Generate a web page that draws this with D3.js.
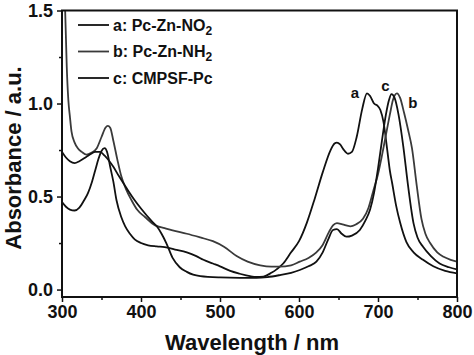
<!DOCTYPE html>
<html><head><meta charset="utf-8">
<script src="https://cdn.jsdelivr.net/npm/d3@7/dist/d3.min.js"></script>
<style>
body{margin:0;background:#fff;}
text{font-family:"Liberation Sans",Arial,sans-serif;font-weight:bold;fill:#111;}
</style></head>
<body><svg id="c" width="474" height="355"></svg>
<script>
// ---- data ----
const wlA = [300,305,310,316,322,328,333,338,342,346,350,354,357,361,365,369,375,380,386,392,400,409,420,430,443,458,470,479,491,500,513,525,538,546,555,565,572,580,590,600,610,620,630,640,645,648,652,656,662,667,673,680,686,690,695,699,703,707,712,715,718,723,728,736,745,757,770,785,800];
const absA = [0.47,0.445,0.43,0.425,0.44,0.48,0.52,0.58,0.64,0.70,0.745,0.76,0.74,0.66,0.58,0.48,0.39,0.34,0.30,0.27,0.25,0.238,0.232,0.228,0.215,0.20,0.18,0.16,0.14,0.125,0.10,0.085,0.072,0.068,0.07,0.09,0.11,0.14,0.20,0.26,0.36,0.49,0.63,0.75,0.785,0.79,0.78,0.755,0.73,0.74,0.82,0.97,1.055,1.04,1.0,0.99,0.965,0.9,0.74,0.64,0.57,0.45,0.36,0.255,0.20,0.16,0.125,0.10,0.087];

const wlB = [300,302,304,306,308,310,312,316,320,325,331,337,344,350,355,358,361,365,370,375,381,388,395,405,418,430,440,458,475,491,505,521,535,551,565,575,590,601,612,622,630,638,643,648,655,665,672,681,688,694,700,705,710,715,719,724,728,733,738,743,749,755,760,766,775,783,792,800];
const absB = [2.6,2.0,1.5,1.2,1.02,0.93,0.85,0.79,0.76,0.74,0.725,0.735,0.76,0.82,0.87,0.88,0.87,0.80,0.70,0.61,0.54,0.48,0.43,0.39,0.345,0.33,0.318,0.30,0.28,0.26,0.23,0.18,0.15,0.13,0.123,0.123,0.13,0.15,0.17,0.20,0.24,0.31,0.345,0.357,0.35,0.34,0.35,0.38,0.44,0.53,0.62,0.72,0.83,0.94,1.02,1.055,1.03,0.95,0.86,0.76,0.56,0.38,0.30,0.25,0.20,0.176,0.16,0.15];

const wlC = [300,305,310,316,322,331,337,342,348,354,360,365,372,378,384,392,401,413,420,426,432,440,449,458,466,475,500,525,546,560,576,590,601,612,622,630,637,643,648,654,660,667,677,684,690,695,700,705,710,714,717,721,726,732,738,745,750,757,767,778,790,800];
const absC = [0.74,0.71,0.69,0.68,0.69,0.714,0.73,0.74,0.74,0.72,0.69,0.66,0.61,0.57,0.53,0.48,0.43,0.37,0.34,0.30,0.25,0.17,0.12,0.095,0.08,0.072,0.065,0.063,0.063,0.067,0.078,0.09,0.105,0.125,0.15,0.20,0.27,0.32,0.325,0.30,0.284,0.29,0.32,0.37,0.43,0.52,0.65,0.80,0.94,1.02,1.05,1.03,0.94,0.77,0.56,0.356,0.28,0.23,0.18,0.14,0.12,0.108];

const seriesNames = ["a: Pc-Zn-NO", "b: Pc-Zn-NH", "c: CMPSF-Pc"];
const seriesSubs = ["2", "2", ""];
const peakLabels = ["a", "b", "c"];
const xTicks = [300,400,500,600,700,800];
const xMinor = [350,450,550,650,750];
const yTicks = [0.0,0.5,1.0,1.5];
const yMinor = [0.25,0.75,1.25];

// ---- layout ----
const L=62,R=457,T=10.5,B=297;
const svg = d3.select("#c");
const x = d3.scaleLinear().domain([300,800]).range([L,R]);
const y = d3.scaleLinear().domain([-0.04,1.5]).range([B,T]);

svg.append("defs").append("clipPath").attr("id","clip")
  .append("rect").attr("x",L).attr("y",T).attr("width",R-L).attr("height",B-T);

const colors = ["#111","#3a3a3a","#111"];
const data = [
  d3.zip(wlA,absA), d3.zip(wlB,absB), d3.zip(wlC,absC)
];
const line = d3.line().x(d=>x(d[0])).y(d=>y(d[1])).curve(d3.curveMonotoneX);
const g = svg.append("g").attr("clip-path","url(#clip)");
data.forEach((d,i)=>{
  g.append("path").datum(d).attr("d",line).attr("fill","none")
   .attr("stroke",colors[i]).attr("stroke-width",1.8);
});

// axes
const ax = svg.append("g").attr("transform",`translate(0,${B})`)
  .call(d3.axisBottom(x).tickValues(xTicks).tickSize(5).tickPadding(3));
svg.append("g").attr("transform",`translate(0,${B})`)
  .call(d3.axisBottom(x).tickValues(xMinor).tickSize(3).tickFormat(""));
const ay = svg.append("g").attr("transform",`translate(${L},0)`)
  .call(d3.axisLeft(y).tickValues(yTicks).tickSize(5).tickPadding(4).tickFormat(d3.format(".1f")));
svg.append("g").attr("transform",`translate(0,0) translate(${L},0)`)
  .call(d3.axisLeft(y).tickValues(yMinor).tickSize(3).tickFormat(""));
svg.selectAll(".domain").remove();
svg.selectAll(".tick line").attr("stroke","#111").attr("stroke-width",1.5);
ax.selectAll("text").style("font-size","18px").attr("fill","#111");
ay.selectAll("text").style("font-size","18px").attr("fill","#111");

svg.append("rect").attr("x",L).attr("y",T).attr("width",R-L).attr("height",B-T)
  .attr("fill","none").attr("stroke","#111").attr("stroke-width",2);

// titles
svg.append("text").attr("x",252).attr("y",350).attr("text-anchor","middle")
  .style("font-size","22px").text("Wavelength / nm");
svg.append("text").attr("transform","translate(21,158) rotate(-90)").attr("text-anchor","middle")
  .style("font-size","22px").text("Absorbance / a.u.");

// legend
const lg = svg.append("g");
seriesNames.forEach((n,i)=>{
  const yy = 25 + i*26.5;
  lg.append("line").attr("x1",78).attr("x2",109).attr("y1",yy).attr("y2",yy)
    .attr("stroke",colors[i]).attr("stroke-width",1.8);
  const t = lg.append("text").attr("x",113).attr("y",yy+5.5).style("font-size","16px").text(n);
  if(seriesSubs[i]) t.append("tspan").attr("dy",4).style("font-size","12px").text(seriesSubs[i]);
});

// peak labels
const lblPos = [[686,1.055],[724,1.055],[717,1.05]];
const lblOff = [[-12,5],[16,15],[-6,-3]];
peakLabels.forEach((p,i)=>{
  svg.append("text").attr("x",x(lblPos[i][0])+lblOff[i][0]).attr("y",y(lblPos[i][1])+lblOff[i][1])
    .attr("text-anchor","middle").style("font-size","15px").text(p);
});
</script></body></html>
